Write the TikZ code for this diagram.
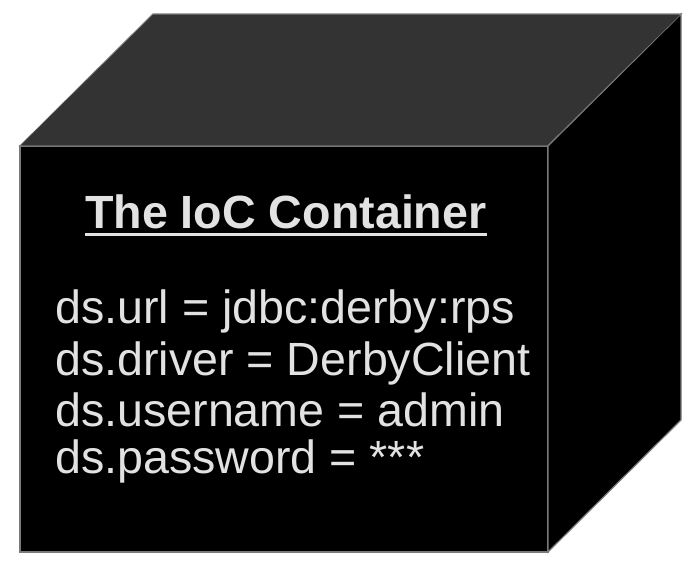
\documentclass[tikz,border=0pt]{standalone}
\usepackage{fontspec}
\setmainfont{Liberation Sans}
\usepackage{tikz}
\definecolor{topgray}{HTML}{333333}
\definecolor{edgegray}{HTML}{7A7A7A}
\definecolor{textgray}{HTML}{E2E2E2}
\tikzset{
  boxtext/.style={text=textgray,inner sep=0pt,anchor=base west,font=\fontsize{46.6}{50}\selectfont}
}

\begin{document}
\begin{tikzpicture}[x=1pt,y=-1pt]
          \useasboundingbox (0,0) rectangle (700,570);
          % front, top and side of the box
          \draw[edgegray,line width=1.2pt,fill=black] (20,146) rectangle (548,552);
          \draw[edgegray,line width=1.2pt,fill=topgray] (20,146)--(153,14)--(681,14)--(548,146)--cycle;
          \draw[edgegray,line width=1.2pt,fill=black] (548,146)--(681,14)--(681,420)--(548,552)--cycle;
          \fill[topgray] (21,145)--(153,15)--(680,15)--(547,145)--cycle;
          \node[boxtext,font=\fontsize{46.6}{50}\selectfont\bfseries] (title) at (85,228) {The IoC Container};
          \draw[textgray,line width=3pt] ([yshift=-6pt]title.base west)--([yshift=-6pt]title.base east);
          \node[boxtext] (url) at (55,323) {ds.url = jdbc:derby:rps};
          \node[boxtext] (driver) at (55,375) {ds.driver = DerbyClient};
          \node[boxtext] (user) at (55,426) {ds.username = admin};
          \node[boxtext] (pass) at (55,473) {ds.password = ***};
        \end{tikzpicture}
\end{document}
